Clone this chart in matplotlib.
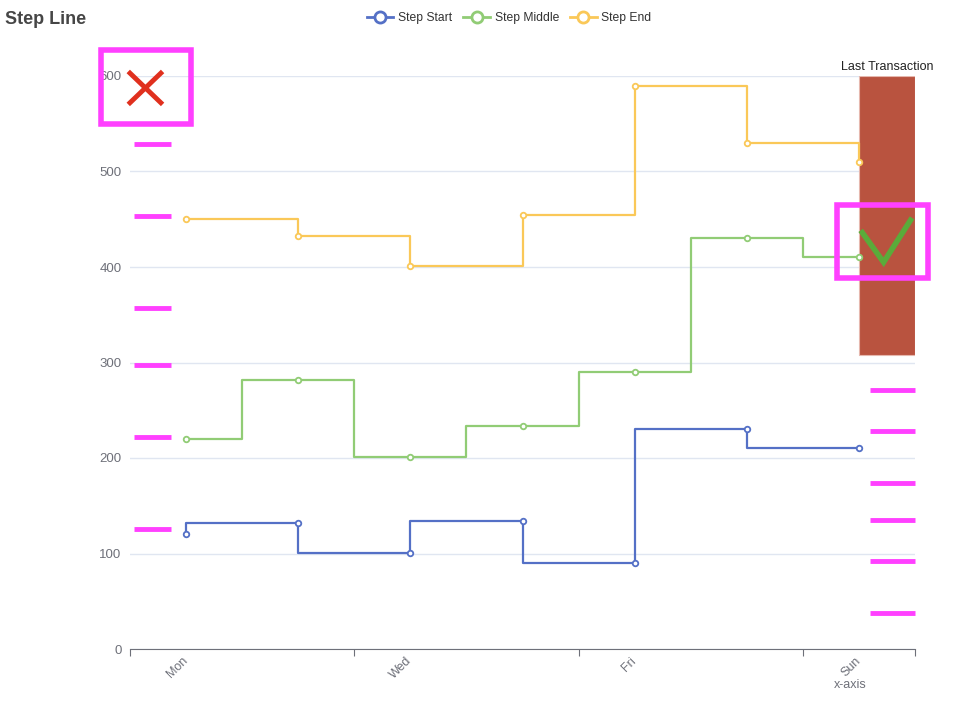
import numpy as np
import matplotlib
matplotlib.use("Agg")
import matplotlib.pyplot as plt
from matplotlib.lines import Line2D

plt.rcParams['font.family'] = ['Liberation Sans', 'DejaVu Sans']

# data
days = ['Mon', 'Tue', 'Wed', 'Thu', 'Fri', 'Sat', 'Sun']
step_start = [120, 132, 101, 134, 90, 230, 210]
step_middle = [220, 282, 201, 234, 290, 430, 410]
step_end = [450, 432, 401, 454, 590, 530, 510]
y_ticks = [0, 100, 200, 300, 400, 500, 600]

# "Last Transaction" area (from Sun to the right edge)
area_low, area_high = 308, 600

# magenta dash annotations (y values)
left_dashes = [529, 453, 357, 297, 222, 126]
right_dashes = [271, 228, 174, 135, 92, 38]

blue = '#5470c6'
green = '#91cc75'
yellow = '#fac858'
magenta = '#ff40ff'

fig = plt.figure(figsize=(9.59, 7.02), dpi=100)
ax = fig.add_axes([130 / 959, 53 / 702, 785 / 959, 573 / 702])

x = np.arange(len(days))
series = [('Step Start', step_start, blue, 'steps-pre'),
          ('Step Middle', step_middle, green, 'steps-mid'),
          ('Step End', step_end, yellow, 'steps-post')]
for name, vals, col, ds in series:
    ax.plot(x, vals, drawstyle=ds, color=col, lw=1.6, zorder=3)
    ax.plot(x, vals, 'o', ms=4, mfc='white', mec=col, mew=1.3, zorder=4)

ax.set_xlim(-0.5, 6.5)
ax.set_ylim(0, 600)

# mark area
ax.add_patch(plt.Rectangle((6, area_low), 0.5, area_high - area_low,
                           facecolor='#b9533f', edgecolor='#e6b8ae', lw=0.8, zorder=2))
ax.text(6.25, 603, 'Last Transaction', ha='center', va='bottom', fontsize=9, color='#222222')

# grid / axes styling
ax.set_yticks(y_ticks)
ax.yaxis.grid(True, color='#e0e6f1', lw=1)
ax.set_axisbelow(True)
for s in ['top', 'right', 'left']:
    ax.spines[s].set_visible(False)
ax.spines['bottom'].set_color('#6e7079')
ax.tick_params(axis='y', length=0, labelsize=9.5, labelcolor='#6e7079', pad=6)

ax.set_xticks([-0.5, 1.5, 3.5, 5.5, 6.5])
ax.set_xticklabels([])
ax.tick_params(axis='x', length=5, color='#6e7079')
for i in range(0, len(days), 2):
    ax.text(i - 0.04, -6, days[i], rotation=45, ha='right', va='top', rotation_mode='anchor',
            fontsize=9, color='#6e7079')
ax.text(5.92, -38, 'x-axis', ha='center', va='center', fontsize=9, color='#6e7079')

# magenta dashes
for yv in left_dashes:
    ax.plot([-0.464, -0.134], [yv, yv], color=magenta, lw=3.5, solid_capstyle='butt',
            zorder=5, clip_on=False)
for yv in right_dashes:
    ax.plot([6.1, 6.5], [yv, yv], color=magenta, lw=3.5, solid_capstyle='butt',
            zorder=5, clip_on=False)

# red cross box
ax.add_patch(plt.Rectangle((-0.76, 550), 0.8, 77, fill=False, edgecolor=magenta, lw=4,
                           clip_on=False, zorder=6))
ax.plot([-0.5, -0.225], [603, 572], color='#e0301e', lw=3.5, zorder=6, clip_on=False)
ax.plot([-0.5, -0.225], [572, 603], color='#e0301e', lw=3.5, zorder=6, clip_on=False)

# green check box
ax.add_patch(plt.Rectangle((5.805, 389), 0.81, 76, fill=False, edgecolor=magenta, lw=4,
                           clip_on=False, zorder=6))
ax.plot([6.03, 6.22, 6.46], [436, 405, 449], color='#5aab3a', lw=4, zorder=6,
        clip_on=False, solid_joinstyle='miter')

# title
fig.text(5 / 959, 1 - 20 / 702, 'Step Line', fontsize=13, fontweight='bold',
         color='#464646', va='center', ha='left')

# legend
handles = [Line2D([0], [0], color=c, lw=2, marker='o', ms=8, mfc='white', mec=c, mew=2)
           for _, _, c, _ in series]
fig.legend(handles, [s[0] for s in series], loc='center', bbox_to_anchor=(0.531, 1 - 18 / 702),
           ncol=3, frameon=False, fontsize=8.7, handlelength=2.2, columnspacing=0.9,
           handletextpad=0.4, labelcolor='#333333')

fig.savefig('out.png', dpi=100)
